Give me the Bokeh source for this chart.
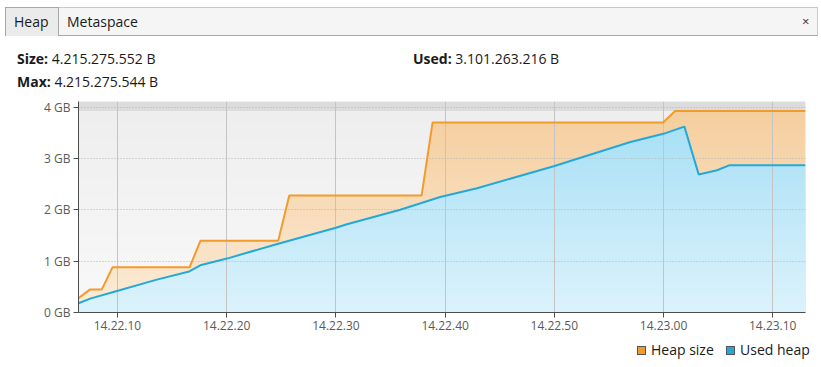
import numpy as np
from bokeh.plotting import figure
from bokeh.models import Range1d, FixedTicker, Div, BoxAnnotation
from bokeh.layouts import column
from bokeh.embed import file_html
from bokeh.resources import INLINE

# ---- data (seconds after 14:22:00, values in GB) ----
heap_t = [6.43, 7.5, 8.57, 9.54, 16.6, 17.6, 24.72, 25.73, 37.85, 38.85, 59.96, 61.06, 73.0]
heap_gb = [0.28, 0.45, 0.45, 0.88, 0.88, 1.40, 1.40, 2.28, 2.28, 3.70, 3.70, 3.926, 3.926]

used_t = [6.43, 7.5, 9.63, 13.6, 16.57, 17.58, 20.02, 24.72, 30.0, 31.01, 35.89, 39.55,
          42.92, 49.94, 56.97, 59.99, 61.91, 63.22, 64.9, 66.06, 73.0]
used_gb = [0.18, 0.27, 0.40, 0.64, 0.80, 0.92, 1.05, 1.34, 1.65, 1.72, 2.00, 2.25,
           2.42, 2.85, 3.32, 3.48, 3.62, 2.69, 2.77, 2.87, 2.87]

max_gb = 3.926

x_ticks = [10, 20, 30, 40, 50, 60, 70]
x_labels = ["14.22.10", "14.22.20", "14.22.30", "14.22.40", "14.22.50", "14.23.00", "14.23.10"]
y_ticks = [0, 1, 2, 3, 4]
y_labels = ["0 GB", "1 GB", "2 GB", "3 GB", "4 GB"]

series_names = ["Heap size", "Used heap"]

size_text = "4.215.275.552 B"
max_text = "4.215.275.544 B"
used_text = "3.101.263.216 B"

FONT = "Open Sans"
ORANGE = "#f29b2c"
BLUE = "#25a8d9"

x0, x1 = 6.43, 73.0
y_top = 4.11

# ---- header ----
header_html = f"""
<div style="position:relative;width:821px;height:95px;font-family:'{FONT}';font-size:14px;line-height:16px;color:#1a1a1a;">
  <div style="position:absolute;left:5px;top:7px;width:813px;height:29px;box-sizing:border-box;background:#f5f5f5;border:1px solid #c9c9c9;border-bottom:1px solid #a8a8a8;"></div>
  <div style="position:absolute;left:5px;top:7px;width:54px;height:29px;box-sizing:border-box;background:#ebebeb;border:1px solid #a8a8a8;border-bottom:none;"></div>
  <div style="position:absolute;left:14px;top:14px;">Heap</div>
  <div style="position:absolute;left:67px;top:14px;">Metaspace</div>
  <div style="position:absolute;left:802px;top:13px;font-size:13px;color:#333;">&#215;</div>
  <div style="position:absolute;left:17px;top:51px;"><b>Size:</b> {size_text}</div>
  <div style="position:absolute;left:17px;top:74px;"><b>Max:</b> {max_text}</div>
  <div style="position:absolute;left:413px;top:51px;"><b>Used:</b> {used_text}</div>
</div>
"""
header = Div(text=header_html, width=821, height=95, margin=(0, 0, 0, 0))

# ---- legend (footer) ----
footer_html = f"""
<div style="position:relative;width:821px;height:32px;font-family:'{FONT}';font-size:14px;line-height:16px;color:#1a1a1a;">
  <div style="position:absolute;left:637px;top:11px;width:9px;height:9px;background:{ORANGE};border:1px solid #555;"></div>
  <div style="position:absolute;left:651px;top:7px;">{series_names[0]}</div>
  <div style="position:absolute;left:726px;top:11px;width:9px;height:9px;background:{BLUE};border:1px solid #555;"></div>
  <div style="position:absolute;left:740px;top:7px;">{series_names[1]}</div>
</div>
"""
footer = Div(text=footer_html, width=821, height=32, margin=(0, 0, 0, 0))

# ---- chart ----
p = figure(width=821, height=240, output_backend="svg", toolbar_location=None,
           x_range=Range1d(x0, x1), y_range=Range1d(0, y_top),
           min_border_left=78, min_border_right=16, min_border_top=6, min_border_bottom=23)
p.background_fill_color = "#eeeeee"
p.border_fill_color = "white"
p.outline_line_color = None

# band above maximum heap
p.add_layout(BoxAnnotation(bottom=max_gb, fill_color="#dcdcdc", fill_alpha=1.0,
                           line_color=None, level="image"))

p.varea(x=heap_t, y1=0, y2=heap_gb, fill_color="#f5cd9b", level="image")
p.varea(x=used_t, y1=0, y2=used_gb, fill_color="#a3def5", level="image")

# vertical white gradient to lighten the lower part
N = 200
alpha = np.linspace(0.62, 0.0, N)
img = np.zeros((N, 1), dtype=np.uint32)
view = img.view(dtype=np.uint8).reshape((N, 1, 4))
view[:, 0, 0] = 255
view[:, 0, 1] = 255
view[:, 0, 2] = 255
view[:, 0, 3] = (alpha * 255).astype(np.uint8)
p.image_rgba(image=[img], x=x0, y=0, dw=x1 - x0, dh=y_top, level="image")

p.line(heap_t, heap_gb, line_color=ORANGE, line_width=2)
p.line(used_t, used_gb, line_color=BLUE, line_width=2)

# axes
for ax in (p.xaxis, p.yaxis):
    ax.axis_line_color = "#4d4d4d"
    ax.major_tick_line_color = "#4d4d4d"
    ax.major_tick_in = 0
    ax.major_tick_out = 5
    ax.minor_tick_line_color = None
    ax.major_label_text_font = FONT
    ax.major_label_text_font_size = "12px"
    ax.major_label_text_color = "#5a5a5a"
p.xaxis.ticker = FixedTicker(ticks=x_ticks)
p.xaxis.major_label_overrides = dict(zip(x_ticks, x_labels))
p.xaxis.major_label_standoff = 3
p.yaxis.ticker = FixedTicker(ticks=y_ticks)
p.yaxis.major_label_overrides = dict(zip(y_ticks, y_labels))
p.yaxis.major_label_standoff = 3

p.xgrid.grid_line_color = "#c4c4c4"
p.xgrid.grid_line_width = 1
p.ygrid.grid_line_color = "#b4b4b4"
p.ygrid.grid_line_dash = "1 2"

layout = column(header, p, footer, spacing=0)
open("out.html", "w").write(file_html(layout, INLINE))
